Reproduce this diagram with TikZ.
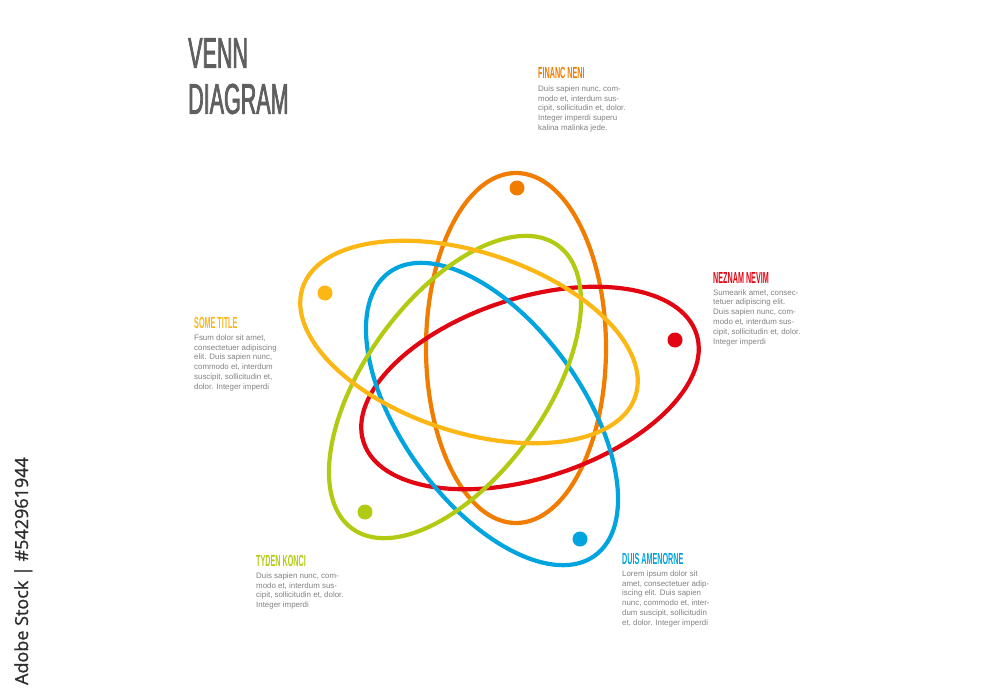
\documentclass[tikz,border=0pt]{standalone}
\usepackage{fontspec}
\setmainfont{Liberation Sans}
\newfontfamily\titlefont[FakeStretch=0.5, FakeBold=1.6]{Liberation Sans}
\newfontfamily\headfont[FakeStretch=0.45]{Liberation Sans}
\newfontfamily\stockfont[FakeBold=1]{Open Sans}
\usetikzlibrary{positioning}

\definecolor{vennorange}{RGB}{240,124,0}
\definecolor{vennred}{RGB}{226,6,19}
\definecolor{vennyellow}{RGB}{253,183,20}
\definecolor{venngreen}{RGB}{178,203,18}
\definecolor{vennblue}{RGB}{0,164,222}
\definecolor{titlegray}{RGB}{95,95,95}
\definecolor{bodygray}{RGB}{130,130,130}
\definecolor{stockgray}{RGB}{45,45,45}

\begin{document}
\begin{tikzpicture}[
                    x=1pt, y=-1pt,
                    ring/.style={line width=4.2pt},
                    heading/.style={font=\headfont\bfseries\fontsize{16}{16}\selectfont,
                        inner sep=0pt, anchor=base west},
                    body/.style={font=\fontsize{7.9}{9.8}\selectfont, text=bodygray,
                        align=left, inner sep=0pt}
                ]
                \useasboundingbox[fill=white] (0,0) rectangle (1000,695);

                % title
                \node (title) at (188,38) [anchor=north west, inner sep=0pt, align=left,
                    text=titlegray, font=\titlefont\fontsize{43}{46}\selectfont] {VENN\\DIAGRAM};

                % the five rings, each one turned by 72 degrees
                \draw[ring, vennorange] (516,348) ellipse [x radius=90pt, y radius=175pt];
                \fill[vennorange] (517,188) circle [radius=7.5pt];

                \draw[ring, vennred, rotate around={-72:(530,388)}]
                    (530,388) ellipse [x radius=90pt, y radius=175pt];
                \fill[vennred] (675,340) circle [radius=7.5pt];

                \draw[ring, vennblue, rotate around={-144:(492,414)}]
                    (492,414) ellipse [x radius=90pt, y radius=175pt];
                \fill[vennblue] (580,539) circle [radius=7.5pt];

                \draw[ring, venngreen, rotate around={144:(455,387)}]
                    (455,387) ellipse [x radius=90pt, y radius=175pt];
                \fill[venngreen] (365,512) circle [radius=7.5pt];

                \draw[ring, vennyellow, rotate around={72:(469,342)}]
                    (469,342) ellipse [x radius=90pt, y radius=175pt];
                \fill[vennyellow] (325,293) circle [radius=7.5pt];

                % labels
                \node (financ) at (538,79) [heading, text=vennorange] {FINANC NENI};
                \node (financ text) [body, below=6pt of financ.south west, anchor=north west]
                    {Duis sapien nunc, com-\\modo et, interdum sus-\\cipit, sollicitudin et, dolor.\\Integer imperdi superu\\kalina malinka jede.};

                \node (neznam) at (713,283) [heading, text=vennred] {NEZNAM NEVIM};
                \node (neznam text) [body, below=6pt of neznam.south west, anchor=north west]
                    {Sumearik amet, consec-\\tetuer adipiscing elit.\\Duis sapien nunc, com-\\modo et, interdum sus-\\cipit, sollicitudin et, dolor.\\Integer imperdi};

                \node (some) at (194,328) [heading, text=vennyellow] {SOME TITLE};
                \node (some text) [body, below=6pt of some.south west, anchor=north west]
                    {Fsum dolor sit amet,\\consectetuer adipiscing\\elit. Duis sapien nunc,\\commodo et, interdum\\suscipit, sollicitudin et,\\dolor. Integer imperdi};

                \node (tyden) at (256,566) [heading, text=venngreen] {TYDEN KONCI};
                \node (tyden text) [body, below=6pt of tyden.south west, anchor=north west]
                    {Duis sapien nunc, com-\\modo et, interdum sus-\\cipit, sollicitudin et, dolor.\\Integer imperdi};

                \node (duis) at (622,564) [heading, text=vennblue] {DUIS AMENORNE};
                \node (duis text) [body, below=6pt of duis.south west, anchor=north west]
                    {Lorem ipsum dolor sit\\amet, consectetuer adip-\\iscing elit. Duis sapien\\nunc, commodo et, inter-\\dum suscipit, sollicitudin\\et, dolor. Integer imperdi};

                \node (stock) at (28,457) [rotate=90, anchor=base east, inner sep=0pt, text=stockgray,
                    font=\stockfont\fontsize{18}{18}\selectfont] {Adobe Stock | \#542961944};
            \end{tikzpicture}
\end{document}
